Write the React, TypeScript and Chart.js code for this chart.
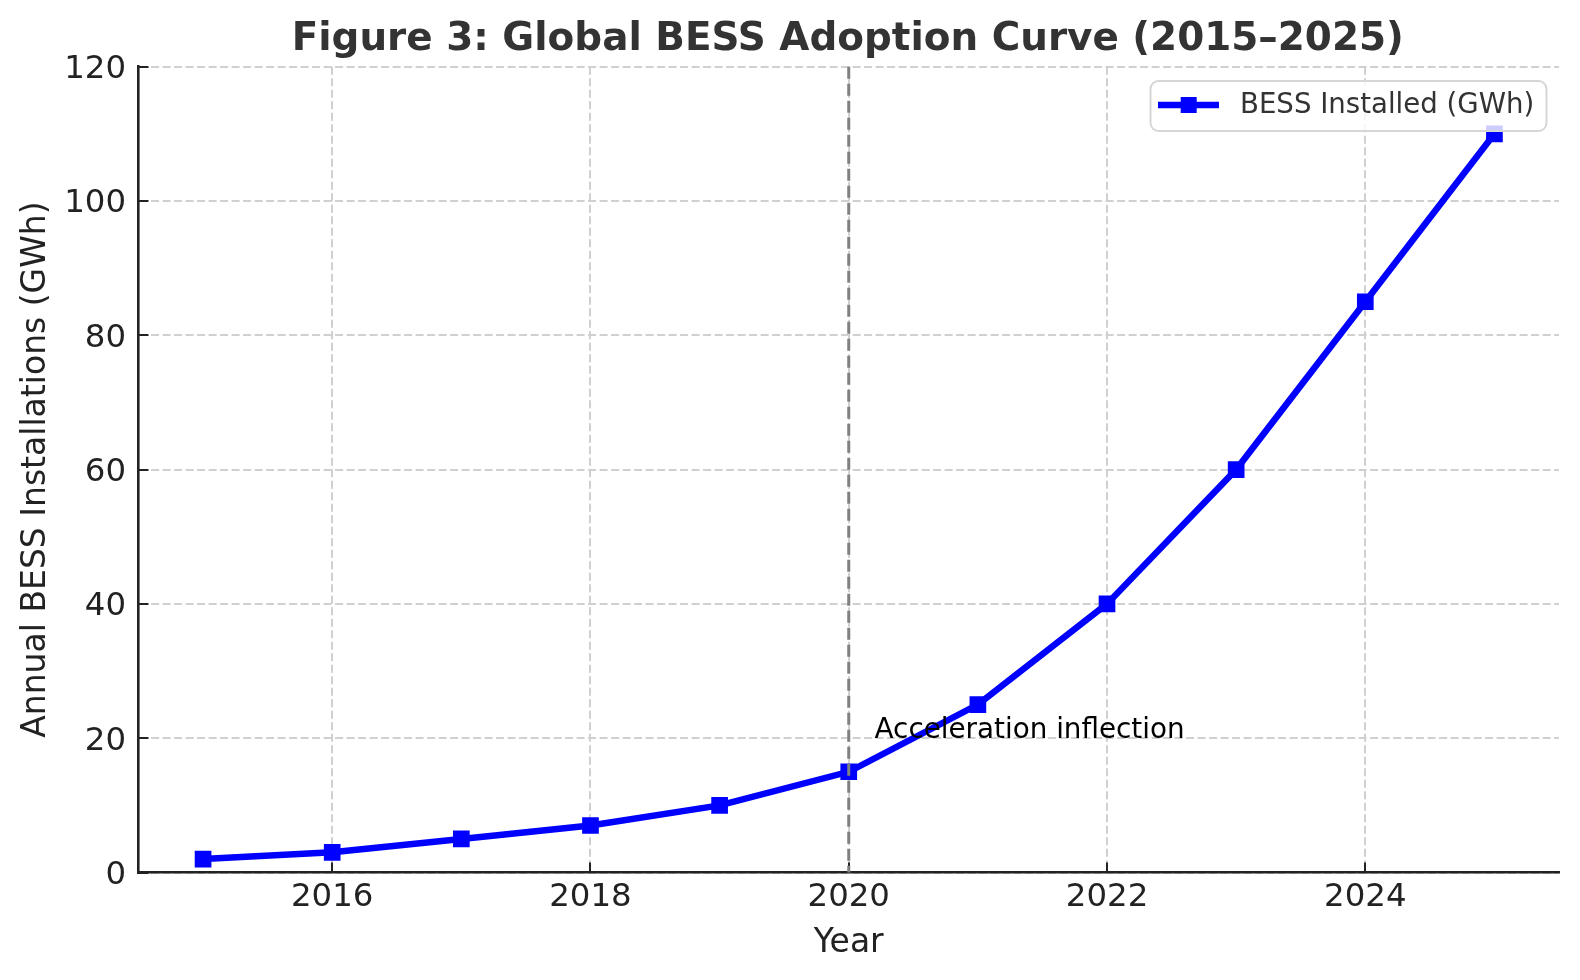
import React, { useEffect, useRef } from 'react';
import { Chart, registerables } from 'chart.js';

Chart.register(...registerables);

const years = [2015, 2016, 2017, 2018, 2019, 2020, 2021, 2022, 2023, 2024, 2025];
const installedGWh = [2, 3, 5, 7, 10, 15, 25, 40, 60, 85, 110];
const xTickYears = [2016, 2018, 2020, 2022, 2024];
const yTickValues = [0, 20, 40, 60, 80, 100, 120];
const seriesLabel = 'BESS Installed (GWh)';
const titleText = 'Figure 3: Global BESS Adoption Curve (2015–2025)';
const xAxisTitle = 'Year';
const yAxisTitle = 'Annual BESS Installations (GWh)';
const inflectionYear = 2020;
const annotationText = 'Acceleration inflection';
const annotationX = 2020.2;
const annotationY = 20;

const FONT = "'DejaVu Sans', 'Noto Sans', sans-serif";
const BLUE = '#0000ff';

const overlayPlugin = {
  id: 'overlay',
  beforeDatasetsDraw(chart: any) {
    const { ctx, chartArea, scales } = chart;
    const x = scales.x;
    const y = scales.y;
    ctx.save();
    ctx.strokeStyle = '#222222';
    ctx.lineWidth = 2;
    ctx.setLineDash([]);
    for (const v of xTickYears) {
      const px = Math.round(x.getPixelForValue(v));
      ctx.beginPath();
      ctx.moveTo(px, chartArea.bottom);
      ctx.lineTo(px, chartArea.bottom - 10);
      ctx.stroke();
    }
    for (const v of yTickValues) {
      const py = Math.round(y.getPixelForValue(v));
      ctx.beginPath();
      ctx.moveTo(chartArea.left, py);
      ctx.lineTo(chartArea.left + 10, py);
      ctx.stroke();
    }
    ctx.restore();
  },
  afterDatasetsDraw(chart: any) {
    const { ctx, chartArea, scales } = chart;
    const x = scales.x;
    const y = scales.y;
    ctx.save();
    // vertical inflection line
    const vx = x.getPixelForValue(inflectionYear);
    ctx.strokeStyle = '#808080';
    ctx.lineWidth = 3;
    ctx.setLineDash([12, 5]);
    ctx.beginPath();
    ctx.moveTo(vx, chartArea.top);
    ctx.lineTo(vx, chartArea.bottom);
    ctx.stroke();
    ctx.setLineDash([]);

    // annotation
    ctx.fillStyle = '#000000';
    ctx.font = `27.8px ${FONT}`;
    ctx.textAlign = 'left';
    ctx.textBaseline = 'alphabetic';
    ctx.fillText(annotationText, x.getPixelForValue(annotationX), y.getPixelForValue(annotationY));

    // legend
    const bx = 1150.5, by = 81, bw = 396, bh = 50;
    ctx.beginPath();
    ctx.roundRect(bx, by, bw, bh, 8);
    ctx.fillStyle = 'rgba(255,255,255,0.8)';
    ctx.fill();
    ctx.strokeStyle = '#d6d6d6';
    ctx.lineWidth = 2;
    ctx.stroke();
    const ly = 105;
    ctx.strokeStyle = BLUE;
    ctx.lineWidth = 6.5;
    ctx.beginPath();
    ctx.moveTo(1158, ly);
    ctx.lineTo(1219, ly);
    ctx.stroke();
    ctx.fillStyle = BLUE;
    ctx.fillRect(1188.7 - 8, ly - 8, 16, 16);
    ctx.fillStyle = '#333333';
    ctx.font = `27.6px ${FONT}`;
    ctx.textBaseline = 'middle';
    ctx.fillText(seriesLabel, 1240, ly + 1);

    // title
    const cx = (chartArea.left + chartArea.right) / 2;
    ctx.fillStyle = '#333333';
    ctx.font = `bold 38.9px ${FONT}`;
    ctx.textAlign = 'center';
    ctx.textBaseline = 'alphabetic';
    ctx.fillText(titleText, cx - 1, 50);

    // x axis title
    ctx.fillStyle = '#222222';
    ctx.font = `33px ${FONT}`;
    ctx.fillText(xAxisTitle, cx, 952);

    // y axis title
    const cy = (chartArea.top + chartArea.bottom) / 2;
    ctx.translate(45, cy);
    ctx.rotate(-Math.PI / 2);
    ctx.textAlign = 'center';
    ctx.textBaseline = 'alphabetic';
    ctx.fillText(yAxisTitle, 0, 0);
    ctx.restore();
  },
};

export default function App() {
  const canvasRef = useRef<HTMLCanvasElement | null>(null);

  useEffect(() => {
    const canvas = canvasRef.current;
    if (!canvas) return;
    const chart = new Chart(canvas, {
      type: 'line',
      data: {
        datasets: [
          {
            label: seriesLabel,
            data: years.map((yr, i) => ({ x: yr, y: installedGWh[i] })),
            borderColor: BLUE,
            backgroundColor: BLUE,
            borderWidth: 6.5,
            pointStyle: 'rect',
            pointRadius: 11.8,
            pointBorderWidth: 0,
            pointBackgroundColor: BLUE,
            tension: 0,
            fill: false,
          },
        ],
      },
      options: {
        animation: false,
        responsive: false,
        devicePixelRatio: 1,
        layout: { padding: { left: 0, top: 66.7, right: 21, bottom: 0 } },
        plugins: {
          legend: { display: false },
          title: { display: false },
          tooltip: { enabled: false },
        },
        scales: {
          x: {
            type: 'linear',
            min: 2014.5,
            max: 2025.5,
            afterBuildTicks: (s: any) => {
              s.ticks = xTickYears.map((v) => ({ value: v }));
            },
            afterFit: (s: any) => {
              s.height = 980 - 872.5;
            },
            grid: { color: '#d0d0d0', lineWidth: 2, drawTicks: false },
            border: { display: true, color: '#222222', width: 2.6, dash: [8, 3.5] },
            ticks: {
              font: { family: FONT, size: 32.4 },
              color: '#222222',
              padding: 5.5,
              maxRotation: 0,
              callback: (v: any) => String(v),
            },
          },
          y: {
            type: 'linear',
            min: 0,
            max: 120,
            afterBuildTicks: (s: any) => {
              s.ticks = yTickValues.map((v) => ({ value: v }));
            },
            afterFit: (s: any) => {
              s.width = 138.5;
            },
            grid: { color: '#d0d0d0', lineWidth: 2, drawTicks: false },
            border: { display: true, color: '#222222', width: 2.6, dash: [8, 3.5] },
            ticks: {
              font: { family: FONT, size: 32.4 },
              color: '#222222',
              padding: 12.5,
              labelOffset: 3,
              callback: (v: any) => String(v),
            },
          },
        },
      },
      plugins: [overlayPlugin],
    });
    return () => chart.destroy();
  }, []);

  return (
    <div style={{ position: 'absolute', left: 0, top: 0, width: 1580, height: 980, background: '#ffffff' }}>
      <canvas ref={canvasRef} width={1580} height={980} style={{ display: 'block', width: 1580, height: 980 }} />
    </div>
  );
}
